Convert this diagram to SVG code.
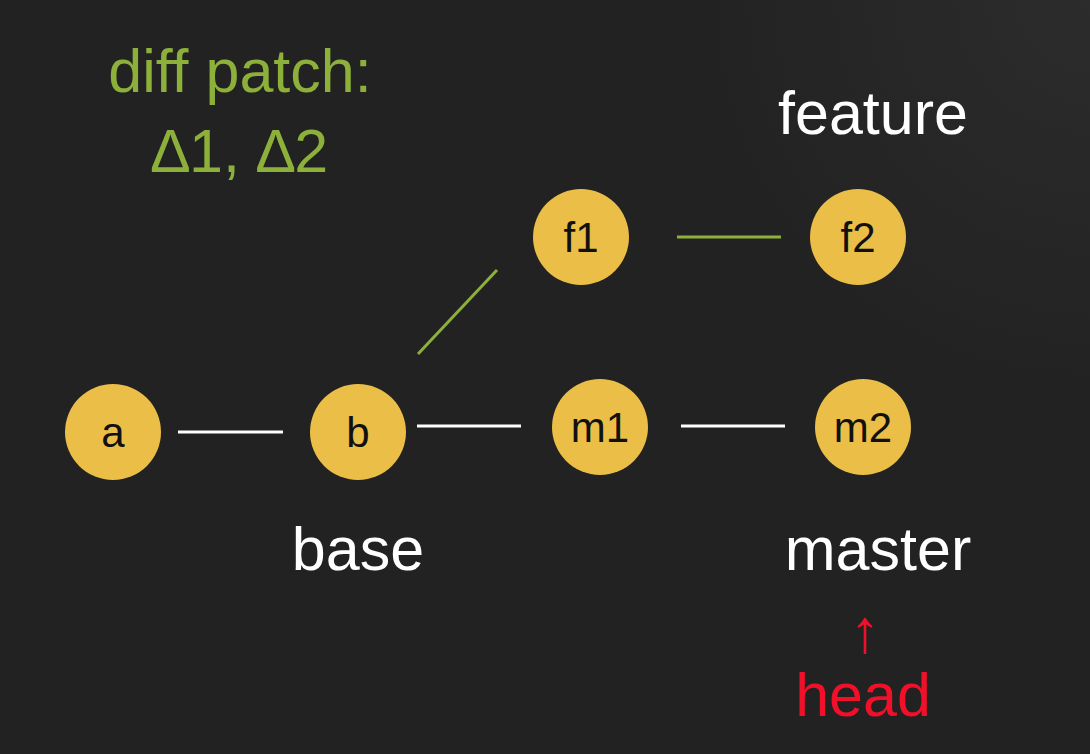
<svg xmlns="http://www.w3.org/2000/svg" width="1090" height="754" viewBox="0 0 1090 754">
<defs>
<radialGradient id="bg" cx="1090" cy="0" r="400" gradientUnits="userSpaceOnUse">
<stop offset="0" stop-color="#2c2c2c"/><stop offset="1" stop-color="#222"/>
</radialGradient>
<style>
.n{fill:#EBBE47}
.nt{font-family:"Liberation Sans",Arial,sans-serif;font-size:42px;fill:#111;text-anchor:middle}
.lb{font-family:"Liberation Sans",Arial,sans-serif;font-size:61px;text-anchor:middle}
.w{stroke:#fff;stroke-width:3}
.g{stroke:#8DB03A;stroke-width:3}
</style>
</defs>
<rect width="1090" height="754" fill="url(#bg)"/>
<g id="connectors">
<line class="w" x1="178" y1="432" x2="283" y2="432"/>
<line class="w" x1="417" y1="426" x2="521" y2="426"/>
<line class="w" x1="681" y1="426" x2="785" y2="426"/>
<line class="g" x1="677" y1="237" x2="781" y2="237"/>
<line class="g" x1="418" y1="354" x2="497" y2="270"/>
</g>
<g id="a"><circle class="n" cx="113" cy="432" r="48"/><text class="nt" x="113" y="447">a</text></g>
<g id="b"><circle class="n" cx="358" cy="432" r="48"/><text class="nt" x="358" y="447">b</text></g>
<g id="m1"><circle class="n" cx="600" cy="427" r="48"/><text class="nt" x="600" y="442">m1</text></g>
<g id="m2"><circle class="n" cx="863" cy="427" r="48"/><text class="nt" x="863" y="442">m2</text></g>
<g id="f1"><circle class="n" cx="581" cy="237" r="48"/><text class="nt" x="581" y="252">f1</text></g>
<g id="f2"><circle class="n" cx="858" cy="237" r="48"/><text class="nt" x="858" y="252">f2</text></g>
<g id="labels">
<text class="lb" x="240" y="92" fill="#8DB03A">diff patch:</text>
<text class="lb" x="240" y="172" fill="#8DB03A">∆1, ∆2</text>
<text class="lb" x="873" y="134" fill="#fff">feature</text>
<text class="lb" x="358" y="570" fill="#fff">base</text>
<text class="lb" x="878" y="570" fill="#fff">master</text>
<text class="lb" x="865" y="652" fill="#F0102A">↑</text>
<text class="lb" x="863" y="716" fill="#F0102A">head</text>
</g>
</svg>
